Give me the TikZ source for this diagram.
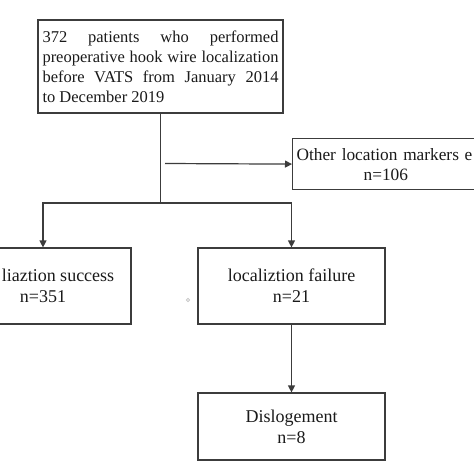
\documentclass[tikz,border=0pt]{standalone}
\usepackage{fontspec}
\setmainfont{Liberation Serif}
\usetikzlibrary{arrows.meta}
\definecolor{linecol}{HTML}{3C3C3C}
\definecolor{txtcol}{HTML}{1A1A1A}
\tikzset{
  box/.style={draw=linecol, line width=1.2pt, text=txtcol, inner sep=0pt, fill=white},
  lowbox/.style={box, align=center, font=\fontsize{18}{21}\selectfont},
  conn/.style={draw=linecol, line width=1.2pt},
  arr/.style={conn, -{Triangle[length=7pt,width=7pt]}}
}
\begin{document}
\begin{tikzpicture}[x=1pt,y=-1pt]
\useasboundingbox (0,0) rectangle (474,474);
\clip (0,0) rectangle (474,474);
\fill[white] (0,0) rectangle (474,474);

\node[box, minimum width=245pt, minimum height=93pt, text width=236pt, align=justify,
      font=\fontsize{16.5}{20}\selectfont] (top) at (160.5,66.5)
  {372 patients who performed\linebreak preoperative hook wire localization\linebreak before VATS from January 2014\linebreak to December 2019};

\node[box, anchor=north west, text width=232pt, inner xsep=4pt, minimum height=51pt,
      align=left, font=\fontsize{17.3}{20}\selectfont] (other) at (292,138)
  {Other location markers e\\\hspace*{67pt}n=106};

\node[lowbox, minimum width=176pt, minimum height=76pt] (success) at (43,286)
  {\hspace*{30pt}liaztion success\\n=351};
\node[lowbox, minimum width=187pt, minimum height=76pt] (failure) at (291.5,286)
  {localiztion failure\\n=21};
\node[lowbox, minimum width=187pt, minimum height=67pt] (dislog) at (291.5,426.5)
  {Dislogement\\n=8};

\coordinate (split) at (top.south |- 0,203);
\coordinate (sidestart) at (165,163.5);

\draw[conn] (top.south) -- (split);
\draw[arr] (split) -| (success.north);
\draw[arr] (split) -| (failure.north);
\draw[arr] (sidestart) -- (other.west);
\draw[arr] (failure.south) -- (dislog.north);

\draw[gray!50, line width=0.6pt] (188,300) circle (1.6);
\end{tikzpicture}
\end{document}
